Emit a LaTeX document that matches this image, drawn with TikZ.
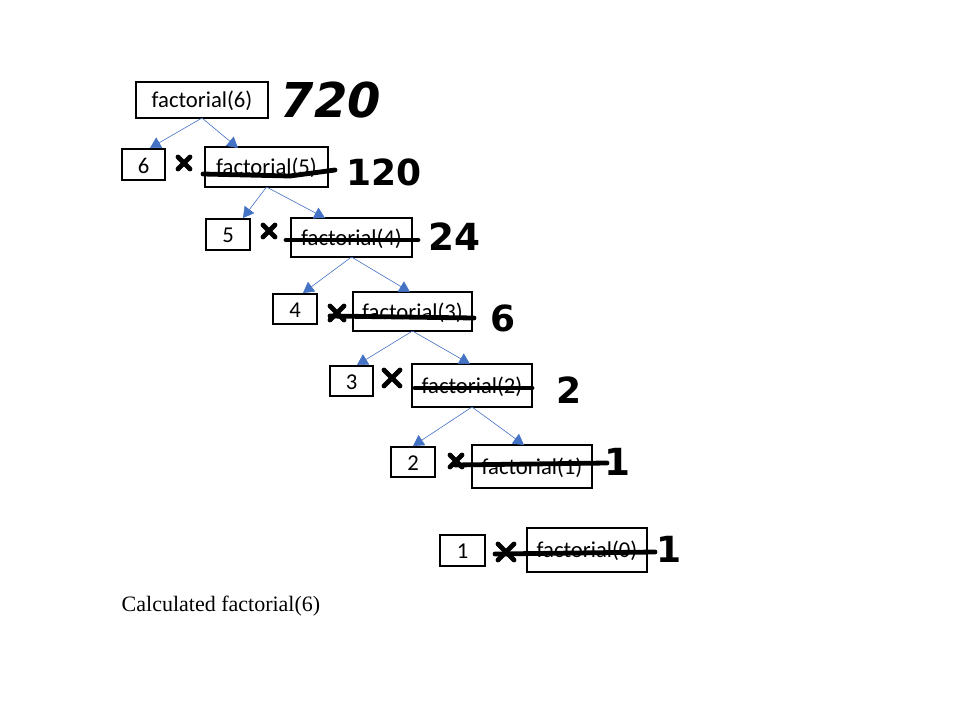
\documentclass[tikz,border=0pt]{standalone}
\usepackage{fontspec}
\setmainfont{Carlito}
\newfontfamily\capfont{Liberation Serif}
\newfontfamily\handfont{DejaVu Sans}
\usetikzlibrary{arrows.meta}
\begin{document}
\begin{tikzpicture}[x=0.75pt,y=-0.75pt,
  arr/.style={draw={rgb,255:red,68;green,114;blue,196},-{Triangle[width=9pt,length=8pt]},fill={rgb,255:red,68;green,114;blue,196}},
  hand/.style={line width=3.6pt,line cap=round,black},
  num/.style={anchor=west}]
\useasboundingbox (0,0) rectangle (972,728);
\newcommand\bxat[6]{\draw[line width=0.8pt] (#1,#2) rectangle (#3,#4); \node[font=\fontsize{17}{18}\selectfont] (#5) at ({(#1+#3)/2},{(#2+#4)/2+1}) {#6};
  \coordinate (#5b) at ({(#1+#3)/2},#4);}
\bxat{136}{82}{268}{118}{f6}{factorial(6)}
\bxat{122}{149}{165}{180}{n6}{6}
\bxat{205}{147}{328}{187}{f5}{factorial(5)}
\bxat{206}{219}{250}{250}{n5}{5}
\bxat{291}{218}{412}{257}{f4}{factorial(4)}
\bxat{273}{294}{317}{324}{n4}{4}
\bxat{353}{292}{472}{331}{f3}{factorial(3)}
\bxat{330}{366}{373}{396}{n3}{3}
\bxat{412}{364}{532}{407}{f2}{factorial(2)}
\bxat{391}{447}{435}{477}{n2}{2}
\bxat{472}{445}{592}{488}{f1}{factorial(1)}
\bxat{440}{535}{485}{566}{n1}{1}
\bxat{527}{528}{647}{572}{f0}{factorial(0)}
\coordinate (a1) at (150,148); \coordinate (a2) at (238,148);
\coordinate (b1) at (243,218); \coordinate (b2) at (325,218);
\coordinate (c1) at (303,293); \coordinate (c2) at (410,292);
\coordinate (d1) at (357,365); \coordinate (d2) at (470,364);
\coordinate (e1) at (413,446); \coordinate (e2) at (524,445);
\draw[arr] (f6b) -- (a1); \draw[arr] (f6b) -- (a2);
\draw[arr] (f5b) -- (b1); \draw[arr] (f5b) -- (b2);
\draw[arr] (f4b) -- (c1); \draw[arr] (f4b) -- (c2);
\draw[arr] (f3b) -- (d1); \draw[arr] (f3b) -- (d2);
\draw[arr] (f2b) -- (e1); \draw[arr] (f2b) -- (e2);
% strikes
\draw[hand] (203,174) -- (290,176) -- (335,170);
\draw[hand] (286,240) -- (418,240);
\draw[hand] (330,316) -- (474,318);
\draw[hand] (415,388) -- (532,388);
\draw[hand] (455,465) -- (607,463);
\draw[hand] (495,554) -- (655,552);
% x marks
\newcommand\xm[3]{\draw[hand] (#1-#3,#2-#3) -- (#1+#3,#2+#3) (#1+#3,#2-#3) -- (#1-#3,#2+#3);}
\xm{184}{163}{6}
\xm{269}{231}{6}
\xm{337}{313}{7}
\xm{392}{378}{8}
\xm{456}{461}{6}
\xm{506}{552}{8}
% numbers
\node[num,font=\handfont\bfseries\itshape\fontsize{36}{36}\selectfont] (r6) at (276,100) {720};
\node[num,font=\handfont\bfseries\fontsize{27}{27}\selectfont] (r5) at (342,172) {120};
\node[num,font=\handfont\bfseries\fontsize{28}{28}\selectfont] (r4) at (424,237) {24};
\node[num,font=\handfont\bfseries\fontsize{27}{27}\selectfont] (r3) at (486,318) {6};
\node[num,font=\handfont\bfseries\fontsize{27}{27}\selectfont] (r2) at (552,390) {2};
\node[num,font=\handfont\bfseries\fontsize{28}{28}\selectfont] (r1) at (600,462) {1};
\node[num,font=\handfont\bfseries\fontsize{27}{27}\selectfont] (r0) at (652,549) {1};
\node[anchor=west,font=\capfont\fontsize{16.5}{17}\selectfont] (cap) at (117,606) {Calculated factorial(6)};
\end{tikzpicture}
\end{document}
